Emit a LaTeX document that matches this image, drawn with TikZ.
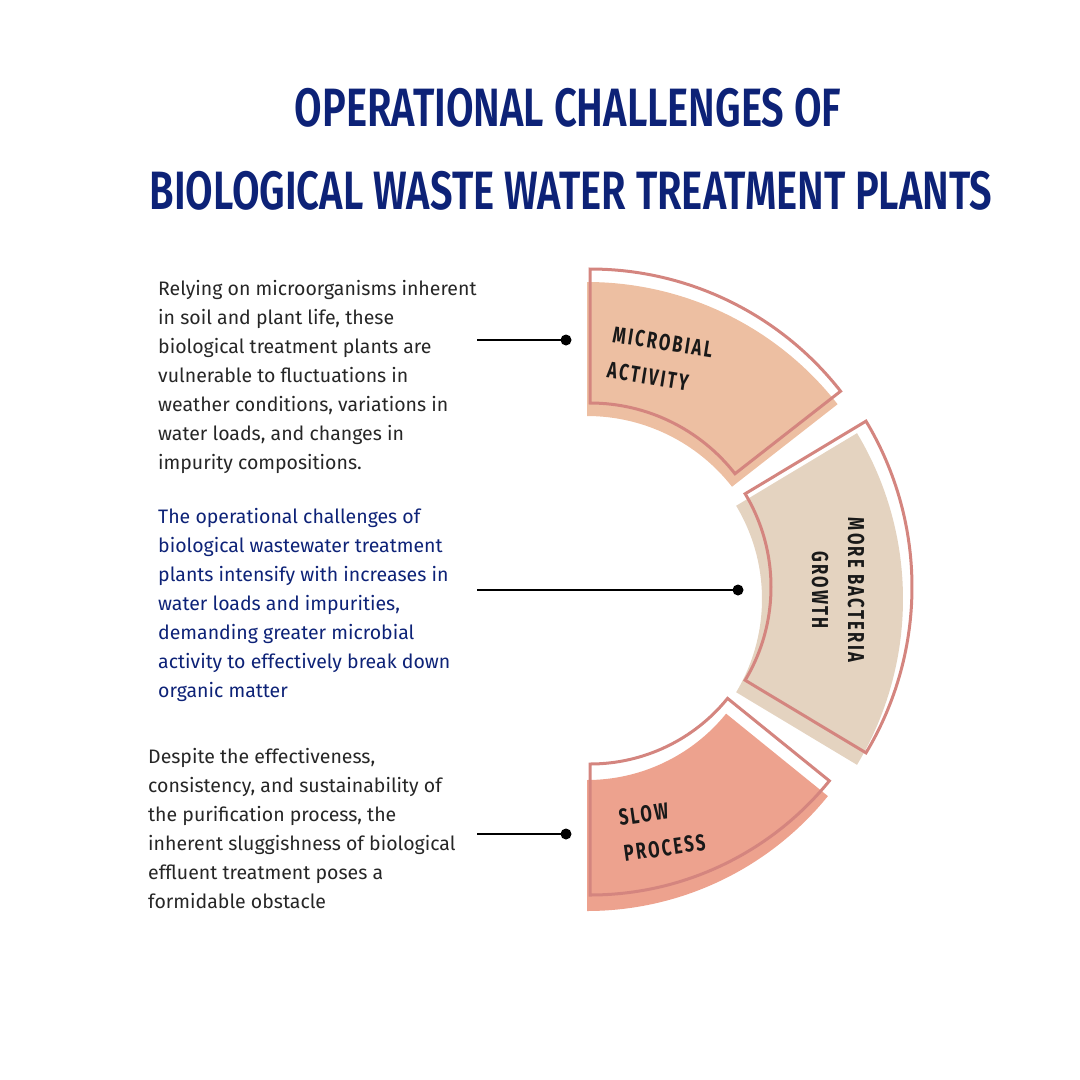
\documentclass[tikz,border=0pt]{standalone}
\usetikzlibrary{calc}
\usepackage{fontspec}
\setmainfont{Fira Sans}
\newfontfamily\titlefont[FakeStretch=0.74]{Fira Sans SemiBold}
\newfontfamily\labfont[FakeStretch=0.72,LetterSpace=10]{Fira Sans Bold}
\definecolor{navy}{HTML}{0D2277}
\definecolor{ftop}{HTML}{EDBFA2}
\definecolor{fmid}{HTML}{E4D3C0}
\definecolor{fbot}{HTML}{EDA28E}
\definecolor{edge}{HTML}{D4857F}
\begin{document}
\begin{tikzpicture}[x=1pt,y=-1pt,
  body/.style={anchor=north west,align=left,font=\fontsize{19.5}{29}\selectfont,text=black!85,inner sep=0},
  lab/.style={font=\labfont\fontsize{23}{36}\selectfont,align=left,text=black!90},
  seg/.style={draw=edge,line width=3pt,fill=none},
  conn/.style={line width=1.5pt,black}]
\useasboundingbox (0,0) rectangle (1080,1080);
\coordinate (c) at (590,587);
\coordinate (ct) at (587,600);
\coordinate (cm) at (581,599);
\coordinate (cb) at (587,601);
% fills
\fill[ftop] ($(ct)+(-90:318)$) arc(-90:-38:318) -- ($(ct)+(-38:184)$) arc(-38:-90:184) -- cycle;
\fill[fmid] ($(cm)+(-31:322)$) arc(-31:31:322) -- ($(cm)+(31:181)$) arc(31:-31:181) -- cycle;
\fill[fbot] ($(cb)+(90:310)$) arc(90:39:310) -- ($(cb)+(39:179)$) arc(39:90:179) -- cycle;
% outlines
\draw[seg] ($(c)+(-90:318)$) arc(-90:-38:318) -- ($(c)+(-38:184)$) arc(-38:-90:184) -- cycle;
\draw[seg] ($(c)+(-31:322)$) arc(-31:31:322) -- ($(c)+(31:181)$) arc(31:-31:181) -- cycle;
\draw[seg] ($(c)+(90:308)$) arc(90:39:308) -- ($(c)+(39:177)$) arc(39:90:177) -- cycle;
% title
\node[font=\titlefont\fontsize{54}{60}\selectfont,text=navy] (t1) at (568,108) {OPERATIONAL CHALLENGES OF};
\node[font=\titlefont\fontsize{54}{60}\selectfont,text=navy] (t2) at (571,191) {BIOLOGICAL WASTE WATER TREATMENT PLANTS};
% labels
\node[lab,rotate=-9] (l1) at (660,360) {MICROBIAL\\ACTIVITY};
\node[lab,rotate=-90,align=center] (l2) at (838,590) {MORE BACTERIA\\GROWTH};
\node[lab,rotate=8] (l3) at (662,830) {SLOW\\PROCESS};
% text
\node[body] (p1) at (158,280) {Relying on microorganisms inherent\\in soil and plant life, these\\biological treatment plants are\\vulnerable to fluctuations in\\weather conditions, variations in\\water loads, and changes in\\impurity compositions.};
\node[body,text=navy] (p2) at (158,508) {The operational challenges of\\biological wastewater treatment\\plants intensify with increases in\\water loads and impurities,\\demanding greater microbial\\activity to effectively break down\\organic matter};
\node[body] (p3) at (148,748) {Despite the effectiveness,\\consistency, and sustainability of\\the purification process, the\\inherent sluggishness of biological\\effluent treatment poses a\\formidable obstacle};
% connectors
\coordinate (a1) at (477,340); \coordinate (b1) at (566,340);
\coordinate (a2) at (477,590); \coordinate (b2) at (738,590);
\coordinate (a3) at (477,834); \coordinate (b3) at (566,834);
\draw[conn] (a1) -- (b1); \fill (b1) circle (5.5);
\draw[conn] (a2) -- (b2); \fill (b2) circle (5.5);
\draw[conn] (a3) -- (b3); \fill (b3) circle (5.5);
\end{tikzpicture}
\end{document}
